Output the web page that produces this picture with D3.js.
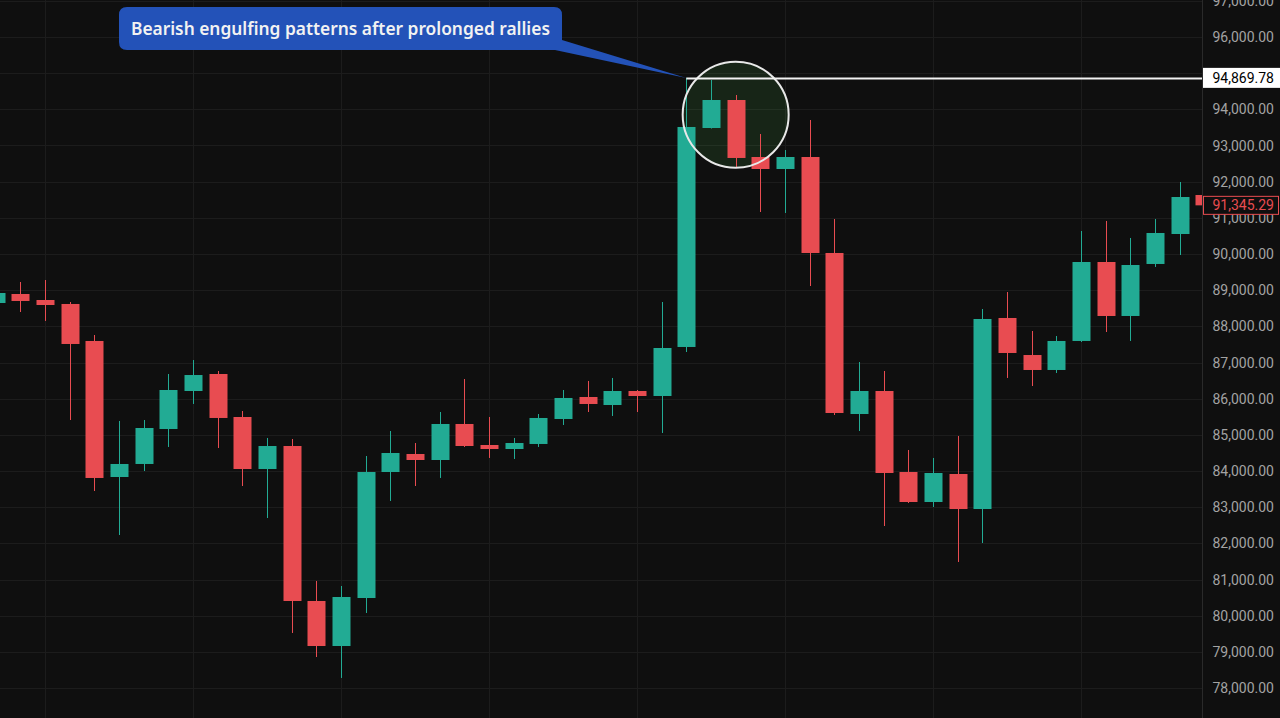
<!DOCTYPE html>
<html>
<head>
<meta charset="utf-8">
<script src="https://cdn.jsdelivr.net/npm/d3@7"></script>
<style>
  html, body { margin: 0; padding: 0; background: #0f0f0f; overflow: hidden; }
  svg { display: block; }
</style>
</head>
<body>
<div id="chart"></div>
<script>

var width = 1280;
var height = 718;

// daily candles, left to right (first one is cut off by the left edge)
var opens  = [88645, 88894, 88728, 88618, 87595, 83834, 84194, 85161, 86212, 86682,
              85493, 84055, 84691, 80406, 79161, 80488, 83972, 84470, 84304, 85300,
              84719, 84608, 84747, 85438, 86046, 85825, 86212, 86074, 87429, 93484,
              94258, 92682, 92350, 92682, 90028, 85576, 86212, 83972, 83143, 83917,
              82949, 88231, 87207, 86793, 87595, 89779, 88286, 89724, 90553, 91631];
var highs  = [89005, 89226, 89281, 88673, 87760, 85383, 85410, 86682, 87069, 86765,
              85659, 84913, 84885, 80959, 80820, 84415, 85106, 84774, 85631, 86544,
              85493, 84913, 85576, 86240, 86489, 86572, 86240, 88673, 94869.78, 94811,
              94396, 93318, 92876, 93705, 90968, 87014, 86765, 84581, 84360, 84968,
              88479, 88949, 87871, 87733, 90636, 90913, 90443, 90968, 91991, 91780];
var lows   = [88590, 88396, 88148, 85410, 83447, 82230, 84000, 84664, 85853, 84636,
              83585, 82700, 79521, 78857, 78277, 80074, 83171, 83585, 83807, 84664,
              84360, 84332, 84664, 85272, 85631, 85521, 85631, 85051, 87290, 93470,
              92406, 91161, 91134, 89115, 85548, 85106, 82479, 83115, 83005, 81484,
              82009, 86572, 86350, 86710, 87567, 87843, 87595, 89641, 89972, 91200];
var closes = [88922, 88701, 88590, 87512, 83807, 84194, 85189, 86240, 86654, 85466,
              84055, 84691, 80406, 79161, 80516, 83972, 84498, 84304, 85300, 84691,
              84608, 84774, 85466, 86019, 85853, 86212, 86074, 87401, 93512, 94258,
              92655, 92350, 92682, 90028, 85604, 86212, 83945, 83143, 83945, 82949,
              88203, 87263, 86793, 87595, 89779, 88286, 89696, 90581, 91576, 91345.29];

var priceTicks = [77000, 78000, 79000, 80000, 81000, 82000, 83000, 84000, 85000, 86000, 87000,
                  88000, 89000, 90000, 91000, 92000, 93000, 94000, 95000, 96000, 97000];
var timeGrid = [2, 8, 14, 20, 26, 32, 38, 44];

var highMark = 94869.78;     // the marked top, index 28
var highIndex = 28;
var lastPrice = closes[closes.length - 1];
var noteText = "Bearish engulfing patterns after prolonged rallies";
var noteFocus = [30, 93850];   // centre of the circled pair

var data = opens.map(function(o, i) {
  return {i: i, open: o, high: highs[i], low: lows[i], close: closes[i]};
});

var upColor = "#22ab94";
var downColor = "#e84c51";
var plotRight = 1202;

var xScale = d3.scaleLinear().domain([2, 44]).range([45, 1081]);
var yScale = d3.scaleLinear().domain([78000, 96000]).range([688, 37]);
var bodyW = 18;

var fmt = d3.format(",.2f");

var svg = d3.select("#chart")
  .append("svg")
  .attr("width", width)
  .attr("height", height)
  .style("background", "#0f0f0f");

svg.append("defs").append("clipPath")
  .attr("id", "plotClip")
  .append("rect")
  .attr("x", 0).attr("y", 0)
  .attr("width", plotRight).attr("height", height);

var plot = svg.append("g").attr("clip-path", "url(#plotClip)");

// grid
plot.selectAll(".hgrid")
  .data(priceTicks)
  .enter()
  .append("line")
  .attr("class", "hgrid")
  .attr("x1", 0).attr("x2", plotRight)
  .attr("y1", function(d) { return Math.round(yScale(d)) + 0.5; })
  .attr("y2", function(d) { return Math.round(yScale(d)) + 0.5; })
  .attr("stroke", "#1c1c1c");

plot.selectAll(".vgrid")
  .data(timeGrid)
  .enter()
  .append("line")
  .attr("class", "vgrid")
  .attr("y1", 0).attr("y2", height)
  .attr("x1", function(d) { return Math.round(xScale(d)) + 0.5; })
  .attr("x2", function(d) { return Math.round(xScale(d)) + 0.5; })
  .attr("stroke", "#1c1c1c");

// circle highlight, fill under the candles
var cx = xScale(noteFocus[0]);
var cy = yScale(noteFocus[1]);
plot.append("circle")
  .attr("cx", cx).attr("cy", cy).attr("r", 53)
  .attr("fill", "rgba(76,175,80,0.14)");

// candles
var candles = plot.selectAll(".candle")
  .data(data)
  .enter()
  .append("g")
  .attr("class", "candle")
  .attr("fill", function(d) { return d.close >= d.open ? upColor : downColor; })
  .attr("stroke", function(d) { return d.close >= d.open ? upColor : downColor; });

candles.append("line")
  .attr("x1", function(d) { return Math.round(xScale(d.i)) + 0.5; })
  .attr("x2", function(d) { return Math.round(xScale(d.i)) + 0.5; })
  .attr("y1", function(d) { return yScale(d.high); })
  .attr("y2", function(d) { return yScale(d.low); })
  .attr("stroke-width", 1);

candles.append("rect")
  .attr("stroke", "none")
  .attr("x", function(d) { return Math.round(xScale(d.i)) - bodyW / 2 + 0.5; })
  .attr("width", bodyW)
  .attr("y", function(d) { return yScale(Math.max(d.open, d.close)); })
  .attr("height", function(d) {
    return Math.max(1, Math.abs(yScale(d.open) - yScale(d.close)));
  });

// circle outline
plot.append("circle")
  .attr("cx", cx).attr("cy", cy).attr("r", 53)
  .attr("fill", "none")
  .attr("stroke", "#e8e8e8")
  .attr("stroke-width", 2);

// horizontal line at the top
var hy = Math.round(yScale(highMark)) + 0.5;
plot.append("line")
  .attr("x1", xScale(highIndex)).attr("x2", plotRight)
  .attr("y1", hy).attr("y2", hy)
  .attr("stroke", "#f2f2f2")
  .attr("stroke-width", 2);

// callout
var bx0 = 119, bx1 = 562, by0 = 7, by1 = 50, r = 8;
var tipX = xScale(highIndex), tipY = yScale(highMark);
var p = d3.path();
p.moveTo(bx0 + r, by0);
p.lineTo(bx1 - r, by0);
p.quadraticCurveTo(bx1, by0, bx1, by0 + r);
p.lineTo(bx1, 40);
p.lineTo(tipX, tipY);
p.lineTo(bx1 - 7, by1);
p.lineTo(bx0 + r, by1);
p.quadraticCurveTo(bx0, by1, bx0, by1 - r);
p.lineTo(bx0, by0 + r);
p.quadraticCurveTo(bx0, by0, bx0 + r, by0);
p.closePath();

svg.append("path")
  .attr("d", p.toString())
  .attr("fill", "#2352b8");

var note = svg.append("text")
  .attr("x", 131)
  .attr("y", 29)
  .attr("dy", "0.35em")
  .attr("fill", "#f2f2f2")
  .style("font-family", "'Noto Sans', Lato, sans-serif")
  .style("font-weight", "600")
  .style("font-size", "17px")
  .text(noteText);

// fit the note to the box width seen in the original
var noteLen = note.node().getComputedTextLength();
if (noteLen > 0) {
  note.style("font-size", (17 * 419 / noteLen).toFixed(2) + "px");
}

// price axis
svg.append("line")
  .attr("x1", plotRight + 0.5).attr("x2", plotRight + 0.5)
  .attr("y1", 0).attr("y2", height)
  .attr("stroke", "#2a2a2a");

// the 95,000 label sits fully under the marked-high label
var shownTicks = priceTicks.filter(function(d) {
  return Math.abs(yScale(d) - yScale(highMark)) > 8;
});

svg.selectAll(".ptick")
  .data(shownTicks)
  .enter()
  .append("text")
  .attr("class", "ptick")
  .attr("x", 1274)
  .attr("y", function(d) { return yScale(d); })
  .attr("dy", "0.36em")
  .attr("text-anchor", "end")
  .attr("fill", "#a3a3a3")
  .style("font-family", "Roboto, sans-serif")
  .style("font-size", "14px")
  .text(function(d) { return fmt(d); });

// marked high label
svg.append("rect")
  .attr("x", plotRight + 1).attr("y", yScale(highMark) - 10)
  .attr("width", width - plotRight - 1).attr("height", 20)
  .attr("fill", "#ffffff");
svg.append("text")
  .attr("x", 1274).attr("y", yScale(highMark))
  .attr("dy", "0.36em")
  .attr("text-anchor", "end")
  .attr("fill", "#000000")
  .style("font-family", "Roboto, sans-serif")
  .style("font-size", "14px")
  .text(fmt(highMark));

// last price label
svg.append("rect")
  .attr("x", plotRight + 1.5).attr("y", yScale(lastPrice) - 9)
  .attr("width", width - plotRight - 3).attr("height", 18)
  .attr("fill", "#0f0f0f")
  .attr("stroke", downColor);
svg.append("text")
  .attr("x", 1274).attr("y", yScale(lastPrice))
  .attr("dy", "0.36em")
  .attr("text-anchor", "end")
  .attr("fill", downColor)
  .style("font-family", "Roboto, sans-serif")
  .style("font-size", "14px")
  .text(fmt(lastPrice));

</script>
</body>
</html>
